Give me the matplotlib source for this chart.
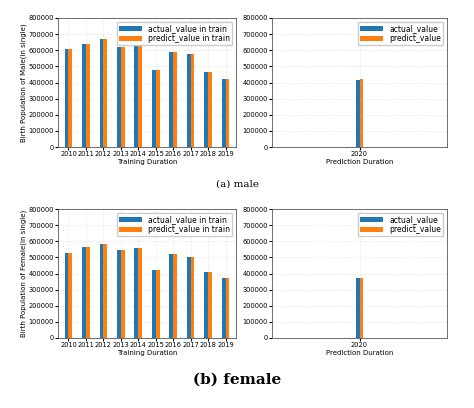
import matplotlib
matplotlib.use("Agg")
import matplotlib.pyplot as plt
import numpy as np

years = [2010,2011,2012,2013,2014,2015,2016,2017,2018,2019]
male_actual = [610000,640000,668000,623000,635000,480000,588000,574000,464000,424000]
male_pred   = [610000,640000,668000,623000,635000,480000,588000,574000,464000,424000]
female_actual = [525000,562000,584000,548000,558000,420000,518000,505000,408000,372000]
female_pred   = [525000,562000,584000,548000,558000,420000,518000,505000,408000,372000]
pred_year = ["2020"]
male_2020 = [418000, 422000]
female_2020 = [370000, 372000]

fig = plt.figure(figsize=(4.74,4.08), dpi=100)
blue, orange = "#1f77b4", "#ff7f0e"
W, H = 474, 408
def ax_at(x0, y0, x1, y1):
    return fig.add_axes([x0/W, 1-y1/H, (x1-x0)/W, (y1-y0)/H])

def style(ax):
    ax.set_ylim(0, 800000)
    ax.set_yticks(range(0, 800001, 100000))
    ax.grid(True, color="#e8e8e8", lw=0.5, ls="--")
    ax.set_axisbelow(True)
    ax.tick_params(labelsize=4.8, length=2, pad=1)
    for s in ax.spines.values():
        s.set_color("#555"); s.set_linewidth(0.6)

panels = [(18,147,male_actual,male_pred,male_2020,"Birth Population of Male(in single)"),
          (209,338,female_actual,female_pred,female_2020,"Birth Population of Female(in single)")]
for y0,y1,act,pre,p20,ylab in panels:
    ax = ax_at(58,y0,236,y1)
    x = np.arange(len(years))
    ax.bar(x-0.11, act, 0.22, color=blue, label="actual_value in train")
    ax.bar(x+0.11, pre, 0.22, color=orange, label="predict_value in train")
    ax.set_xticks(x); ax.set_xticklabels(years)
    ax.set_xlim(-0.6, 9.6)
    style(ax)
    ax.set_xlabel("Training Duration", fontsize=5, labelpad=1)
    ax.set_ylabel(ylab, fontsize=5, labelpad=1)
    ax.legend(fontsize=5.5, loc="upper right", framealpha=1, handlelength=3, borderpad=0.3, labelspacing=0.1)
    ax2 = ax_at(272,y0,447,y1)
    ax2.bar([-0.02], [p20[0]], 0.04, color=blue, label="actual_value")
    ax2.bar([0.02], [p20[1]], 0.04, color=orange, label="predict_value")
    ax2.set_xlim(-1, 1)
    ax2.set_xticks([0]); ax2.set_xticklabels(pred_year)
    style(ax2)
    ax2.set_xlabel("Prediction Duration", fontsize=5, labelpad=1)
    ax2.legend(fontsize=5.5, loc="upper right", framealpha=1, handlelength=3, borderpad=0.3, labelspacing=0.1)

fig.text(0.5, 1-184/H, "(a) male", ha="center", va="center", fontsize=7.5, family="DejaVu Serif")
fig.text(0.5, 1-380/H, "(b) female", ha="center", va="center", fontsize=11, weight="bold", family="DejaVu Serif")
fig.savefig("out.png", dpi=100)
